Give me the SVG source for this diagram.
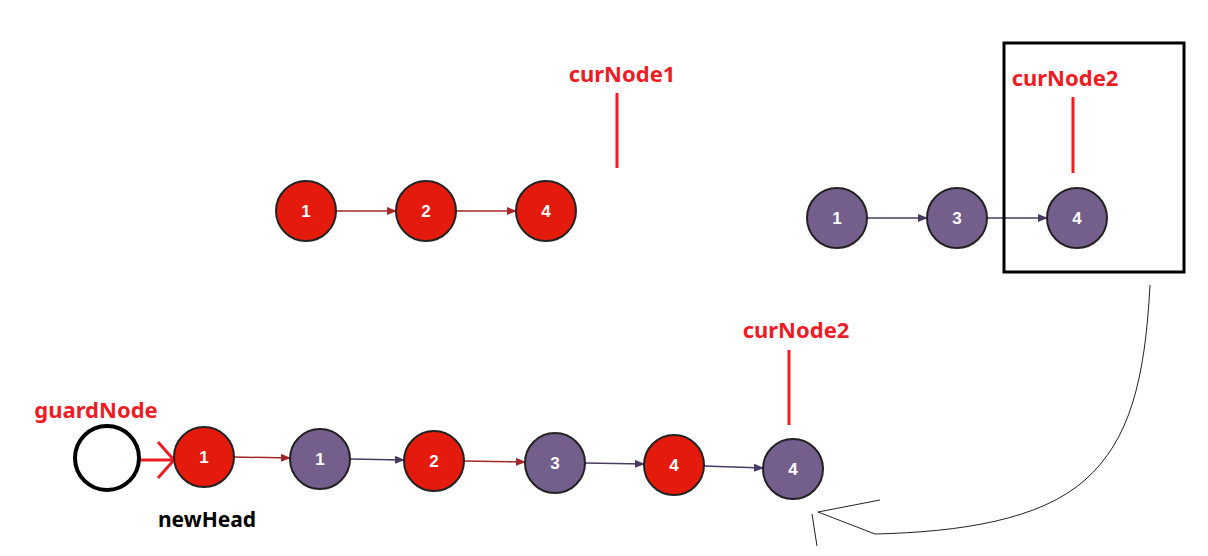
<svg xmlns="http://www.w3.org/2000/svg" width="1208" height="556" viewBox="0 0 1208 556">
<style>
.r{fill:#e31a0c;stroke:#222;stroke-width:2}
.p{fill:#735e8c;stroke:#222;stroke-width:2}
.n{fill:#fff;font:bold 17px "Liberation Sans",Arial,sans-serif;text-anchor:middle}
.lbl{fill:#ee1c25;font:bold 22px "Noto Sans","Liberation Sans",sans-serif;text-anchor:middle}
.ptr{stroke:#ee1c25;stroke-width:3}
.er{stroke:#a3272a;stroke-width:1.5;fill:none;marker-end:url(#ar)}
.ep{stroke:#4a3a63;stroke-width:1.5;fill:none;marker-end:url(#ap)}
</style>
<defs>
<marker id="ar" markerWidth="10" markerHeight="8" refX="9" refY="4" orient="auto" markerUnits="userSpaceOnUse"><path d="M0,0L10,4L0,8z" fill="#a3272a"/></marker>
<marker id="ap" markerWidth="10" markerHeight="8" refX="9" refY="4" orient="auto" markerUnits="userSpaceOnUse"><path d="M0,0L10,4L0,8z" fill="#4a3a63"/></marker>
</defs>
<rect width="1208" height="556" fill="#fff"/>
<g id="connectors">
<line class="er" x1="336" y1="211" x2="396" y2="211"/>
<line class="er" x1="456" y1="211" x2="516" y2="211"/>
<line class="ep" x1="867" y1="218" x2="927" y2="218"/>
<line class="ep" x1="987" y1="218" x2="1047" y2="218"/>
<line class="er" x1="234" y1="457" x2="290" y2="458"/>
<line class="ep" x1="350" y1="459" x2="404" y2="460"/>
<line class="er" x1="464" y1="461" x2="525" y2="462"/>
<line class="ep" x1="585" y1="463" x2="644" y2="464"/>
<line class="ep" x1="704" y1="466" x2="763" y2="468"/>
<g stroke="#ee1c25" stroke-width="3" fill="none">
<line x1="140" y1="460" x2="174" y2="460"/>
<polyline points="158,442 174,460 158,478"/>
</g>
<g stroke="#222" stroke-width="1" fill="none">
<path d="M1150,285 C1145,380 1130,440 1085,480 C1040,520 960,532 875,534 L818,512"/>
<line x1="818" y1="512" x2="880" y2="500"/>
<line x1="812" y1="514" x2="817" y2="546"/>
</g>
<line class="ptr" x1="617" y1="93" x2="617" y2="168"/>
<line class="ptr" x1="1073" y1="97" x2="1073" y2="173"/>
<line class="ptr" x1="789" y1="350" x2="789" y2="425"/>
</g>
<g id="box"><rect x="1004" y="43" width="180" height="229" fill="none" stroke="#000" stroke-width="3"/></g>
<g id="t1"><circle class="r" cx="306" cy="211" r="30"/><text class="n" x="306" y="217">1</text></g>
<g id="t2"><circle class="r" cx="426" cy="211" r="30"/><text class="n" x="426" y="217">2</text></g>
<g id="t3"><circle class="r" cx="546" cy="211" r="30"/><text class="n" x="546" y="217">4</text></g>
<g id="u1"><circle class="p" cx="837" cy="218" r="30"/><text class="n" x="837" y="224">1</text></g>
<g id="u2"><circle class="p" cx="957" cy="218" r="30"/><text class="n" x="957" y="224">3</text></g>
<g id="u3"><circle class="p" cx="1077" cy="218" r="30"/><text class="n" x="1077" y="224">4</text></g>
<g id="guard"><circle cx="107" cy="458" r="32" fill="#fff" stroke="#000" stroke-width="4"/></g>
<g id="b1"><circle class="r" cx="204" cy="457" r="30"/><text class="n" x="204" y="463">1</text></g>
<g id="b2"><circle class="p" cx="320" cy="459" r="30"/><text class="n" x="320" y="465">1</text></g>
<g id="b3"><circle class="r" cx="434" cy="461" r="30"/><text class="n" x="434" y="467">2</text></g>
<g id="b4"><circle class="p" cx="555" cy="463" r="30"/><text class="n" x="555" y="469">3</text></g>
<g id="b5"><circle class="r" cx="674" cy="465" r="30"/><text class="n" x="674" y="471">4</text></g>
<g id="b6"><circle class="p" cx="793" cy="469" r="30"/><text class="n" x="793" y="475">4</text></g>
<g id="labels">
<text class="lbl" x="622" y="82">curNode1</text>
<text class="lbl" x="1065" y="86">curNode2</text>
<text class="lbl" x="796" y="338">curNode2</text>
<text class="lbl" x="96" y="418">guardNode</text>
<text x="207" y="527" style="font:bold 21px 'Noto Sans','Liberation Sans',sans-serif;text-anchor:middle">newHead</text>
</g>
</svg>
